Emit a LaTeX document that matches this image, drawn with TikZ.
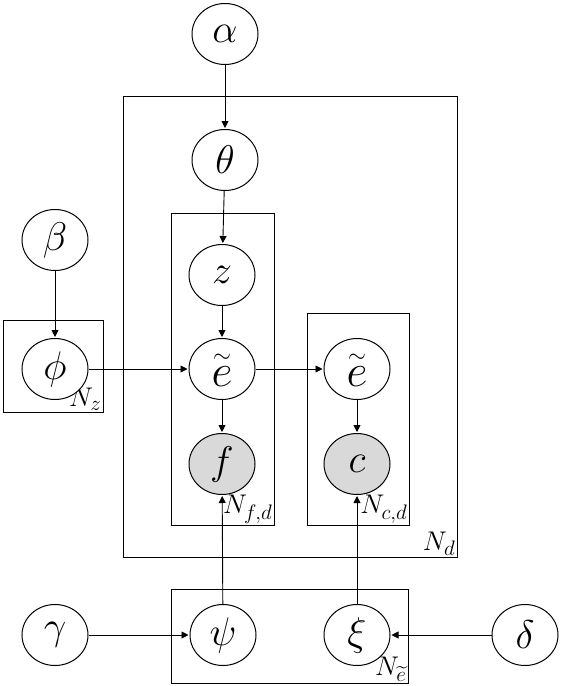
\RequirePackage{fix-cm}
\documentclass[tikz,border=0pt]{standalone}
\usepackage{amsmath}
\usepackage{exscale}
\DeclareMathSizes{27}{27}{21}{16}
\usetikzlibrary{shapes.geometric,arrows.meta}
\newcommand{\tle}{\overset{\raisebox{-1pt}{$\scriptscriptstyle\sim$}}{e}}
\begin{document}
\begin{tikzpicture}[x=1pt,y=-1pt,
 var/.style={ellipse,draw,line width=1pt,fill=white,minimum width=66pt,minimum height=61pt,inner sep=0pt,font=\fontsize{40}{40}\selectfont},
 evar/.style={var,font=\fontsize{46}{46}\selectfont},
 obs/.style={var,fill=black!15},
 plate/.style={draw,line width=1pt},
 lbl/.style={anchor=south east,inner sep=1.5pt,font=\fontsize{27}{27}\selectfont},
 edge/.style={-{Triangle[length=7pt,width=7pt]},line width=0.9pt,shorten >=1pt}]
\useasboundingbox (0,0) rectangle (561,686);
% plates
\draw[plate] (123,96) rectangle (457,557);
\node[lbl] (Ld) at (457,557) {$N_d$};
\draw[plate] (171,213) rectangle (274,525);
\node[lbl] (Lfd) at (274,525) {$N_{f,d}$};
\draw[plate] (307,313) rectangle (409,525);
\node[lbl] (Lcd) at (409,525) {$N_{c,d}$};
\draw[plate] (3,320) rectangle (103,412);
\node[lbl] (Lz) at (103,412) {$N_z$};
\draw[plate] (171,589) rectangle (408,683);
\node[lbl] (Le) at (408,683) {$N_{\widetilde{e}}$};
% nodes
\node[var] (alpha) at (225,34) {$\alpha$};
\node[var] (theta) at (225,160) {$\theta$};
\node[var] (z) at (222,275) {$z$};
\node[evar] (e1) at (222,369) {$\tle$};
\node[obs] (f) at (222,464) {$f$};
\node[evar] (e2) at (357,369) {$\tle$};
\node[obs] (c) at (357,464) {$c$};
\node[var] (beta) at (55,240) {$\beta$};
\node[var] (phi) at (55,369) {$\phi$};
\node[var] (gamma) at (55,635) {$\gamma$};
\node[var] (psi) at (223,635) {$\psi$};
\node[var] (xi) at (357,635) {$\xi$};
\node[var] (delta) at (525,635) {$\delta$};
% edges
\draw[edge] (alpha) -- (theta);
\draw[edge] (theta) -- (z);
\draw[edge] (z) -- (e1);
\draw[edge] (e1) -- (f);
\draw[edge] (beta) -- (phi);
\draw[edge] (phi) -- (e1);
\draw[edge] (e1) -- (e2);
\draw[edge] (e2) -- (c);
\draw[edge] (gamma) -- (psi);
\draw[edge] (delta) -- (xi);
\draw[edge] (psi) -- (f);
\draw[edge] (xi) -- (c);
\end{tikzpicture}
\end{document}
